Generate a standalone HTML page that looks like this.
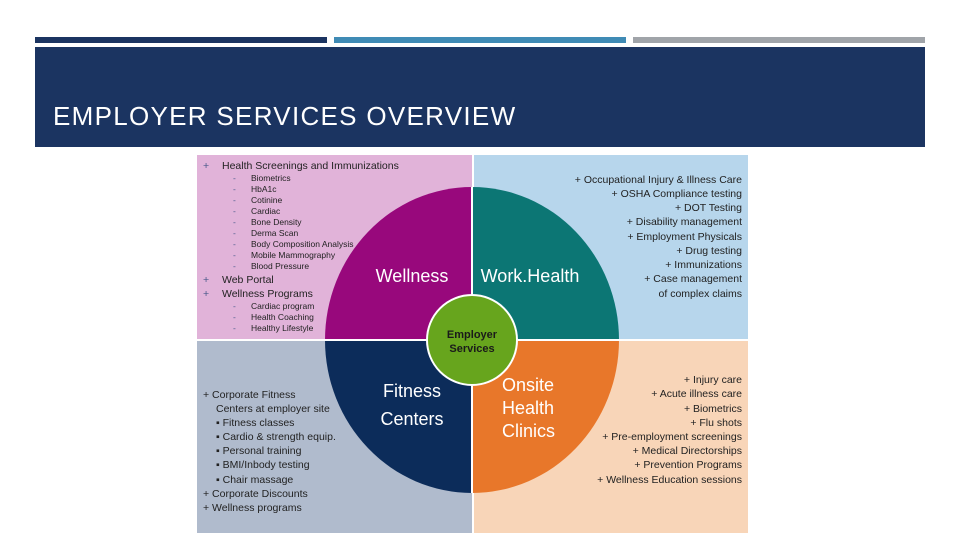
<!DOCTYPE html>
<html><head><meta charset="utf-8"><style>
body{margin:0;width:960px;height:540px;background:#fff;overflow:hidden;font-family:"Liberation Sans",Arial,sans-serif}
</style></head><body>
<svg width="960" height="540" xmlns="http://www.w3.org/2000/svg" font-family="Liberation Sans, Arial, sans-serif">
<rect x="35" y="37" width="292" height="6" fill="#1b3461"/>
<rect x="334" y="37" width="292" height="6" fill="#3f8bb5"/>
<rect x="633" y="37" width="292" height="6" fill="#a0a4a9"/>
<rect x="35" y="47" width="890" height="100" fill="#1b3461"/>
<text x="53" y="125" fill="#fff" font-size="26" letter-spacing="1.3">EMPLOYER SERVICES OVERVIEW</text>
<rect x="197" y="155" width="275" height="184" fill="#e1b3d9"/>
<rect x="474" y="155" width="274" height="184" fill="#b7d6ec"/>
<rect x="197" y="341" width="275" height="192" fill="#b0bbcd"/>
<rect x="474" y="341" width="274" height="192" fill="#f8d5b8"/>
<g fill="#222" font-size="10.5">
<text x="203" y="169" fill="#4a5a8a">+</text><text x="222" y="169">Health Screenings and Immunizations</text>
<text x="203" y="283" fill="#4a5a8a">+</text><text x="222" y="283">Web Portal</text>
<text x="203" y="297" fill="#4a5a8a">+</text><text x="222" y="297">Wellness Programs</text>
</g>
<g fill="#222" font-size="8.5">
<text x="251" y="181">Biometrics</text>
<text x="251" y="192">HbA1c</text>
<text x="251" y="203">Cotinine</text>
<text x="251" y="214">Cardiac</text>
<text x="251" y="225">Bone Density</text>
<text x="251" y="236">Derma Scan</text>
<text x="251" y="247">Body Composition Analysis</text>
<text x="251" y="258">Mobile Mammography</text>
<text x="251" y="269">Blood Pressure</text>
<text x="251" y="309">Cardiac program</text>
<text x="251" y="320">Health Coaching</text>
<text x="251" y="331">Healthy Lifestyle</text>
</g>
<g fill="#4a5a8a" font-size="8.5">
<text x="233" y="181">-</text><text x="233" y="192">-</text><text x="233" y="203">-</text><text x="233" y="214">-</text><text x="233" y="225">-</text><text x="233" y="236">-</text><text x="233" y="247">-</text><text x="233" y="258">-</text><text x="233" y="269">-</text><text x="233" y="309">-</text><text x="233" y="320">-</text><text x="233" y="331">-</text>
</g>
<g fill="#222" font-size="10.5" text-anchor="end">
<text x="742" y="183">+ Occupational Injury &amp; Illness Care</text>
<text x="742" y="197">+ OSHA Compliance testing</text>
<text x="742" y="211">+ DOT Testing</text>
<text x="742" y="225">+ Disability management</text>
<text x="742" y="240">+ Employment Physicals</text>
<text x="742" y="254">+ Drug testing</text>
<text x="742" y="268">+ Immunizations</text>
<text x="742" y="282">+ Case management</text>
<text x="742" y="297">of complex claims</text>
<text x="742" y="383">+ Injury care</text>
<text x="742" y="397">+ Acute illness care</text>
<text x="742" y="412">+ Biometrics</text>
<text x="742" y="426">+ Flu shots</text>
<text x="742" y="440">+ Pre-employment screenings</text>
<text x="742" y="454">+ Medical Directorships</text>
<text x="742" y="468">+ Prevention Programs</text>
<text x="742" y="483">+ Wellness Education sessions</text>
</g>
<g fill="#222" font-size="10.5">
<text x="203" y="398">+ Corporate Fitness</text>
<text x="216" y="412">Centers at employer site</text>
<text x="216" y="426">▪ Fitness classes</text>
<text x="216" y="440">▪ Cardio &amp; strength equip.</text>
<text x="216" y="454">▪ Personal training</text>
<text x="216" y="468">▪ BMI/Inbody testing</text>
<text x="216" y="483">▪ Chair massage</text>
<text x="203" y="497">+ Corporate Discounts</text>
<text x="203" y="511">+ Wellness programs</text>
</g>
<path d="M472 340 L325 340 A147 153 0 0 1 472 187 Z" fill="#98087c"/>
<path d="M472 340 L472 187 A147 153 0 0 1 619 340 Z" fill="#0c7674"/>
<path d="M472 340 L325 340 A147 153 0 0 0 472 493 Z" fill="#0c2c5a"/>
<path d="M472 340 L472 493 A147 153 0 0 0 619 340 Z" fill="#e8772a"/>
<line x1="325" y1="340" x2="619" y2="340" stroke="#fff" stroke-width="2"/>
<line x1="472" y1="187" x2="472" y2="493" stroke="#fff" stroke-width="2"/>
<circle cx="472" cy="340" r="45" fill="#67a51d" stroke="#fff" stroke-width="2"/>
<text x="472" y="338" text-anchor="middle" font-size="11" font-weight="bold" fill="#1a1a1a">Employer</text>
<text x="472" y="352" text-anchor="middle" font-size="11" font-weight="bold" fill="#1a1a1a">Services</text>
<g fill="#fff" font-size="18">
<text x="412" y="282" text-anchor="middle">Wellness</text>
<text x="530" y="282" text-anchor="middle">Work.Health</text>
<text x="412" y="397" text-anchor="middle">Fitness</text>
<text x="412" y="425" text-anchor="middle">Centers</text>
<text x="502" y="391">Onsite</text>
<text x="502" y="414">Health</text>
<text x="502" y="437">Clinics</text>
</g>
</svg>
</body></html>
